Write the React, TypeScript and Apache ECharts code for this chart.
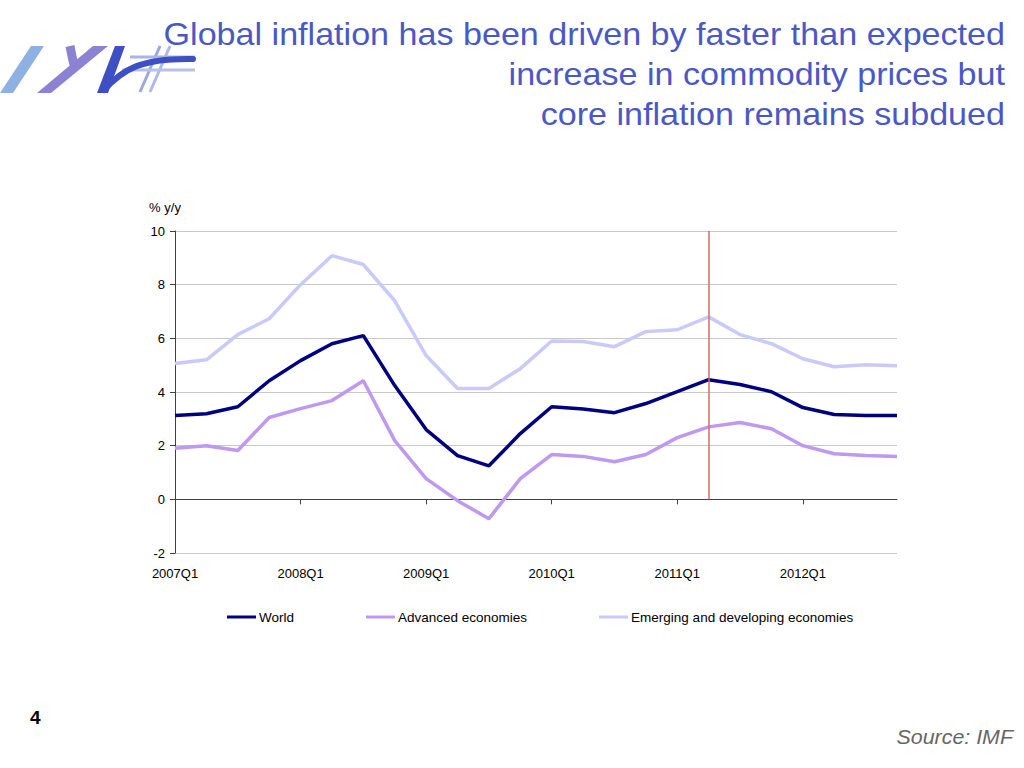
import React, { useEffect, useRef } from "react";
import * as echarts from "echarts";

// Quarterly headline inflation, % y/y
const quarters = [
  "2007Q1", "2007Q2", "2007Q3", "2007Q4",
  "2008Q1", "2008Q2", "2008Q3", "2008Q4",
  "2009Q1", "2009Q2", "2009Q3", "2009Q4",
  "2010Q1", "2010Q2", "2010Q3", "2010Q4",
  "2011Q1", "2011Q2", "2011Q3", "2011Q4",
  "2012Q1", "2012Q2", "2012Q3", "2012Q4",
];

const world = [
  3.12, 3.19, 3.45, 4.42, 5.17, 5.8, 6.1, 4.24, 2.6, 1.63, 1.25, 2.45,
  3.45, 3.37, 3.23, 3.57, 4.01, 4.46, 4.28, 4.01, 3.42, 3.16, 3.12, 3.12,
];

const advanced = [
  1.9, 2.0, 1.82, 3.05, 3.38, 3.68, 4.42, 2.19, 0.77, -0.05, -0.72, 0.77,
  1.67, 1.6, 1.4, 1.67, 2.3, 2.7, 2.86, 2.63, 2.0, 1.7, 1.63, 1.6,
];

const emerging = [
  5.06, 5.2, 6.14, 6.73, 8.0, 9.08, 8.75, 7.4, 5.36, 4.13, 4.13, 4.87,
  5.9, 5.88, 5.69, 6.25, 6.32, 6.8, 6.14, 5.8, 5.24, 4.94, 5.02, 4.98,
];

// Last actual quarter, marked with a vertical line
const forecastStart = "2011Q2";

const titleLines = [
  "Global inflation has been driven by faster than expected",
  "increase in commodity prices but",
  "core inflation remains subdued",
];

const FONT = '"Liberation Sans", Arial, sans-serif';

export default function App() {
  const ref = useRef<HTMLDivElement>(null);

  useEffect(() => {
    if (!ref.current) return;
    const chart = echarts.init(ref.current, null, { renderer: "svg" });

    const option = {
      animation: false,
      backgroundColor: "#ffffff",
      textStyle: { fontFamily: FONT },
      grid: { left: 175, right: 127, top: 231, bottom: 215, containLabel: false },
      legend: {
        left: 222,
        top: 605,
        itemGap: 72,
        itemWidth: 29,
        itemHeight: 3,
        icon: "rect",
        textStyle: { fontFamily: FONT, fontSize: 13.5, color: "#000", padding: [0, 0, 0, -2] },
        data: ["World", "Advanced economies", "Emerging and developing economies"],
      },
      xAxis: [
        {
          type: "category",
          data: quarters,
          boundaryGap: false,
          axisLine: { onZero: true, lineStyle: { color: "#404040", width: 1 } },
          axisTick: { show: true, interval: 3, length: 5, lineStyle: { color: "#404040" } },
          axisLabel: { show: false },
          splitLine: { show: false },
        },
        {
          type: "category",
          data: quarters,
          boundaryGap: false,
          position: "bottom",
          axisLine: { show: false, onZero: false },
          axisTick: { show: false },
          axisLabel: {
            show: true,
            interval: 3,
            margin: 14,
            fontFamily: FONT,
            fontSize: 13,
            color: "#000",
          },
          splitLine: { show: false },
        },
      ],
      yAxis: {
        type: "value",
        min: -2,
        max: 10,
        interval: 2,
        name: "% y/y",
        nameLocation: "end",
        nameGap: 17,
        nameTextStyle: {
          fontFamily: FONT,
          fontSize: 13,
          color: "#000",
          align: "center",
          padding: [0, 20, 0, 0],
        },
        axisLine: { show: true, lineStyle: { color: "#404040", width: 1 } },
        axisTick: { show: true, length: 5, lineStyle: { color: "#404040" } },
        axisLabel: { fontFamily: FONT, fontSize: 13, color: "#000", margin: 10 },
        splitLine: { show: true, lineStyle: { color: "#c8c8c8", width: 1 } },
      },
      series: [
        {
          name: "Emerging and developing economies",
          type: "line",
          data: emerging,
          symbol: "none",
          color: "#c9c9fa",
          lineStyle: { width: 3.5, color: "#c9c9fa" },
          z: 2,
        },
        {
          name: "Advanced economies",
          type: "line",
          data: advanced,
          symbol: "none",
          color: "#bf98f0",
          lineStyle: { width: 3.5, color: "#bf98f0" },
          z: 3,
        },
        {
          name: "World",
          type: "line",
          data: world,
          symbol: "none",
          color: "#000080",
          lineStyle: { width: 3.5, color: "#000080" },
          z: 4,
          markLine: {
            silent: true,
            symbol: "none",
            label: { show: false },
            lineStyle: { color: "#e06666", width: 1.5, type: "solid" },
            data: [[{ coord: [forecastStart, 10] }, { coord: [forecastStart, 0] }]],
          },
        },
      ],
      graphic: [
        // logo strokes
        {
          type: "polygon",
          shape: { points: [[0, 93], [13, 93], [44, 46], [31, 46]] },
          style: { fill: "#8fb0e2" },
        },
        {
          type: "polygon",
          shape: { points: [[37, 93], [51, 93], [108, 46], [93, 46]] },
          style: { fill: "#8c82d4" },
        },
        {
          type: "bezierCurve",
          shape: { x1: 70, y1: 46, x2: 76, y2: 70, cpx1: 72, cpy1: 56, cpx2: 73, cpy2: 64 },
          style: { stroke: "#8c82d4", lineWidth: 9, fill: "none" },
        },
        {
          type: "line",
          shape: { x1: 140, y1: 92, x2: 160, y2: 46 },
          style: { stroke: "#9aa8e0", lineWidth: 3 },
        },
        {
          type: "line",
          shape: { x1: 150, y1: 92, x2: 170, y2: 46 },
          style: { stroke: "#b0b8e8", lineWidth: 3 },
        },
        {
          type: "line",
          shape: { x1: 130, y1: 57, x2: 195, y2: 57 },
          style: { stroke: "#aab4e6", lineWidth: 3 },
        },
        {
          type: "line",
          shape: { x1: 122, y1: 70, x2: 195, y2: 70 },
          style: { stroke: "#b8c0ea", lineWidth: 3 },
        },
        {
          type: "polygon",
          shape: { points: [[97, 93], [108, 93], [125, 46], [115, 46]] },
          style: { fill: "#3d4fc2" },
        },
        {
          type: "bezierCurve",
          shape: { x1: 104, y1: 90, x2: 193, y2: 59, cpx1: 122, cpy1: 70, cpx2: 140, cpy2: 58 },
          style: { stroke: "#3d4fc2", lineWidth: 6, fill: "none", lineCap: "round" },
        },
        // slide title
        {
          type: "text",
          x: 1005,
          y: 15,
          scaleX: 1.1,
          style: {
            text: titleLines.join("\n"),
            x: 0,
            y: 0,
            align: "right",
            verticalAlign: "top",
            font: `31px ${FONT}`,
            lineHeight: 40,
            fill: "#4a58c6",
          },
        },
        // page number
        {
          type: "text",
          x: 30,
          y: 708,
          style: { text: "4", font: `bold 19px ${FONT}`, fill: "#000", verticalAlign: "top" },
        },
        // source note
        {
          type: "text",
          x: 1013,
          y: 727,
          scaleX: 1.07,
          style: {
            text: "Source: IMF",
            align: "right",
            verticalAlign: "top",
            font: `italic 20px ${FONT}`,
            fill: "#666666",
          },
        },
      ],
    };

    chart.setOption(option as any);
    return () => chart.dispose();
  }, []);

  return (
    <div
      ref={ref}
      style={{ position: "absolute", left: 0, top: 0, width: 1024, height: 768, background: "#fff" }}
    />
  );
}
